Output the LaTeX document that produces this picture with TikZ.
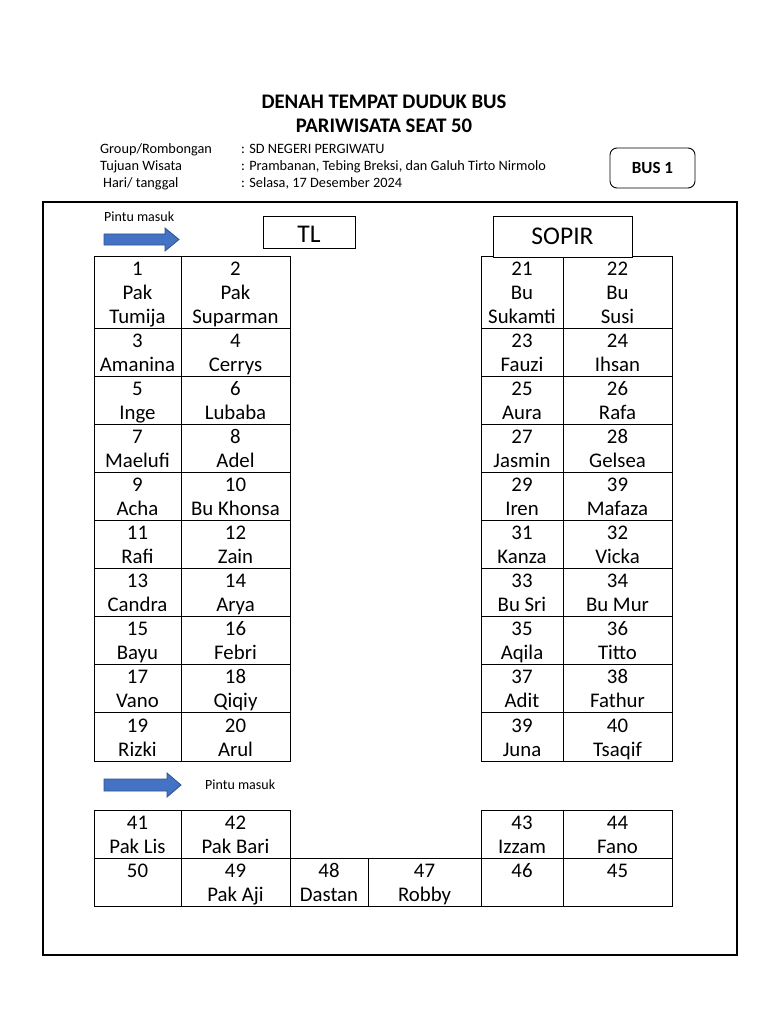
\documentclass[tikz,border=0pt]{standalone}
\usepackage{fontspec}
\setmainfont{Carlito}
\definecolor{arrowblue}{HTML}{4472C4}
\definecolor{arrowline}{HTML}{2F528F}
\newcommand\topst{\rule{0pt}{19.2pt}}
\newcommand\botst{\rule[-4.8pt]{0pt}{4.8pt}}
\newcommand\cellt[2]{\topst#1\\#2\botst}
\newcommand\cellth[3]{\topst#1\\#2\\#3\botst}
\begin{document}
\begin{tikzpicture}[x=1pt,y=-1pt,
 cell/.style={draw, line width=0.8pt, inner sep=0pt, align=center, font=\fontsize{20.8}{24}\selectfont},
 cA/.style={cell, minimum width=87pt},
 cB/.style={cell, minimum width=109pt},
 cC/.style={cell, minimum width=82pt},
 cD/.style={cell, minimum width=109pt},
 cE/.style={cell, minimum width=78pt},
 cF/.style={cell, minimum width=113pt},
 info/.style={anchor=base west, inner sep=0pt, font=\fontsize{14.3}{16}\selectfont},
 titletext/.style={anchor=base, inner sep=0pt, font=\fontsize{20.7}{24}\selectfont\bfseries},
 door/.style={draw=arrowline, fill=arrowblue, line width=0.8pt},
 doortext/.style={anchor=base west, inner sep=0pt, font=\fontsize{14}{15}\selectfont},
 staff/.style={draw, line width=0.8pt, inner sep=0pt, font=\fontsize{25.5}{30}\selectfont}
]
\useasboundingbox[fill=white] (0,0) rectangle (768,1024);

% title
\node[titletext] (t1) at (384,109) {DENAH TEMPAT DUDUK BUS};
\node[titletext] (t2) at (384,133) {PARIWISATA SEAT 50};

% info
\node[info] (g1) at (100,154) {Group/Rombongan};
\node[info] (g2) at (241,154) {: SD NEGERI PERGIWATU};
\node[info] (h1) at (100,171) {Tujuan Wisata};
\node[info] (h2) at (241,171) {: Prambanan, Tebing Breksi, dan Galuh Tirto Nirmolo};
\node[info] (d1) at (103,188) {Hari/ tanggal};
\node[info] (d2) at (241,188) {: Selasa, 17 Desember 2024};

\node[draw, line width=0.9pt, rounded corners=7pt, minimum width=85pt, minimum height=40pt, inner sep=0pt,
      font=\fontsize{17}{20}\selectfont\bfseries] (bus) at (652.5,168) {BUS 1};

% outer frame
\draw[line width=1.5pt] (43,202) rectangle (737,955);

% doors
\node[doortext] (p1) at (104,222) {Pintu masuk};
\draw[door] (104,234) -- (165,234) -- (165,228) -- (179,239.5) -- (165,251) -- (165,245) -- (104,245) -- cycle;
\node[doortext] (p2) at (205,789) {Pintu masuk};
\draw[door] (104,779) -- (167,779) -- (167,773) -- (181,785) -- (167,797) -- (167,791) -- (104,791) -- cycle;

% staff
\node[staff, minimum width=92pt, minimum height=32pt] (tl) at (309,232) {};
\node[inner sep=0pt, font=\fontsize{25.5}{30}\selectfont] (tltext) at (309,234.5) {TL};

% first row
\node[cA, minimum height=71pt] (r1c1) at (137.5,292.5) {\cellth{1}{Pak}{Tumija}};
\node[cB, minimum height=71pt] (r1c2) at (235.5,292.5) {\cellth{2}{Pak}{Suparman}};
\node[cC, minimum height=71pt] (r1c3) at (522,292.5) {\cellth{21}{Bu}{Sukamti}};
\node[cD, minimum height=71pt] (r1c4) at (617.5,292.5) {\cellth{22}{Bu}{Susi}};

\node[staff, fill=white, minimum width=139pt, minimum height=41pt] (sopir) at (562.5,236.5) {SOPIR};

\foreach \i/\na/\ta/\nb/\tb/\nc/\tc/\nd/\td in {
 0/3/Amanina/4/Cerrys/23/Fauzi/24/Ihsan,
 1/5/Inge/6/Lubaba/25/Aura/26/Rafa,
 2/7/Maelufi/8/Adel/27/Jasmin/28/Gelsea,
 3/9/Acha/10/Bu Khonsa/29/Iren/39/Mafaza,
 4/11/Rafi/12/Zain/31/Kanza/32/Vicka,
 5/13/Candra/14/Arya/33/Bu Sri/34/Bu Mur,
 6/15/Bayu/16/Febri/35/Aqila/36/Titto,
 7/17/Vano/18/Qiqiy/37/Adit/38/Fathur,
 8/19/Rizki/20/Arul/39/Juna/40/Tsaqif}{
 \pgfmathsetmacro\yy{352+48.11*\i}
 \node[cA, minimum height=48.11pt] (r\i c1) at (137.5,\yy) {\cellt{\na}{\ta}};
 \node[cB, minimum height=48.11pt] (r\i c2) at (235.5,\yy) {\cellt{\nb}{\tb}};
 \node[cC, minimum height=48.11pt] (r\i c3) at (522,\yy) {\cellt{\nc}{\tc}};
 \node[cD, minimum height=48.11pt] (r\i c4) at (617.5,\yy) {\cellt{\nd}{\td}};
}

% back rows
\node[cA, minimum height=48pt] (b1c1) at (137.5,834) {\cellt{41}{Pak Lis}};
\node[cB, minimum height=48pt] (b1c2) at (235.5,834) {\cellt{42}{Pak Bari}};
\node[cC, minimum height=48pt] (b1c3) at (522,834) {\cellt{43}{Izzam}};
\node[cD, minimum height=48pt] (b1c4) at (617.5,834) {\cellt{44}{Fano}};

\node[cA, minimum height=48pt] (b2c1) at (137.5,882) {\cellt{50}{}};
\node[cB, minimum height=48pt] (b2c2) at (235.5,882) {\cellt{49}{Pak Aji}};
\node[cE, minimum height=48pt] (b2c3) at (329,882) {\cellt{48}{Dastan}};
\node[cF, minimum height=48pt] (b2c4) at (424.5,882) {\cellt{47}{Robby}};
\node[cC, minimum height=48pt] (b2c5) at (522,882) {\cellt{46}{}};
\node[cD, minimum height=48pt] (b2c6) at (617.5,882) {\cellt{45}{}};
\end{tikzpicture}
\end{document}
